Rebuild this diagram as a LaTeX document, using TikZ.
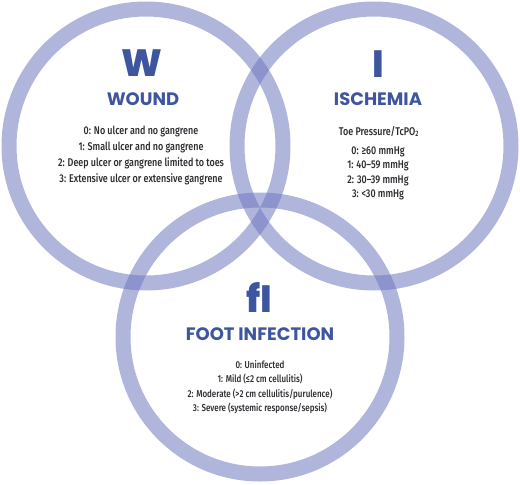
\documentclass[tikz,border=0pt]{standalone}
\usepackage{fontspec}
\newfontfamily\headfont{Poppins}
\newfontfamily\letterfont[UprightFont={* ExtraBold}]{Poppins}
\newfontfamily\bodyfont[FakeStretch=0.8, UprightFont={* Medium}]{Fira Sans}
\definecolor{ringblue}{RGB}{112,120,192}
\definecolor{titleblue}{RGB}{62,86,160}
\definecolor{bodygray}{RGB}{40,40,45}
\tikzset{
  ring/.style={draw=ringblue, draw opacity=0.55, line width=15pt},
  bigletter/.style={font=\letterfont\fontsize{38}{38}\selectfont, text=titleblue, anchor=base, inner sep=0pt},
  heading/.style={font=\headfont\bfseries\fontsize{18}{18}\selectfont, text=titleblue, anchor=base, inner sep=0pt},
  grade/.style={font=\bodyfont\fontsize{10}{10}\selectfont, text=bodygray, anchor=base, inner sep=0pt},
  biggrade/.style={grade, font=\bodyfont\fontsize{11.2}{11.2}\selectfont},
}

\begin{document}
\begin{tikzpicture}[x=1pt,y=-1pt]
  \useasboundingbox (0,0) rectangle (520,485);

  % Rings
  \draw[ring] (146,146) circle (137pt);
  \draw[ring] (374,146) circle (137pt);
  \draw[ring] (260,337) circle (137pt);

  % Wound
  \node[bigletter] (wletter) at (142,76) {W};
  \node[heading] (wtitle) at (143,105) {WOUND};
  \node[biggrade] (w0) at (141,134) {0: No ulcer and no gangrene};
  \node[biggrade] (w1) at (141,150) {1: Small ulcer and no gangrene};
  \node[biggrade] (w2) at (141,166) {2: Deep ulcer or gangrene limited to toes};
  \node[biggrade] (w3) at (141,182) {3: Extensive ulcer or extensive gangrene};

  % Ischemia
  \node[bigletter] (iletter) at (378,77) {I};
  \node[heading] (ititle) at (378,105) {ISCHEMIA};
  \node[biggrade] (itoe) at (379,135) {Toe Pressure/TcPO\textsubscript{2}};
  \node[biggrade] (i0) at (378,154) {0: ≥60 mmHg};
  \node[biggrade] (i1) at (378,168.5) {1: 40–59 mmHg};
  \node[biggrade] (i2) at (378,183) {2: 30–39 mmHg};
  \node[biggrade] (i3) at (378,197.5) {3: <30 mmHg};

  % Foot infection
  \node[bigletter] (fletter) at (259,312) {fI};
  \node[heading] (ftitle) at (260,340) {FOOT INFECTION};
  \node[grade] (f0) at (260,368) {0: Uninfected};
  \node[grade] (f1) at (260,382.5) {1: Mild (≤2 cm cellulitis)};
  \node[grade] (f2) at (260,397) {2: Moderate (>2 cm cellulitis/purulence)};
  \node[grade] (f3) at (260,411.5) {3: Severe (systemic response/sepsis)};
\end{tikzpicture}
\end{document}
